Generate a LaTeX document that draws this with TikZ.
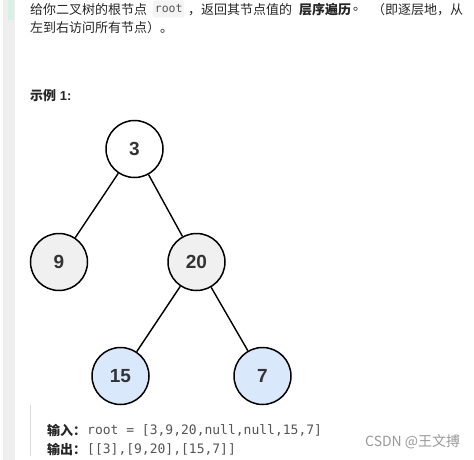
\documentclass[tikz,border=0pt]{standalone}
\usepackage{fontspec}
\setmainfont{Liberation Sans}
\setmonofont{DejaVu Sans Mono}
\newfontfamily\cjk{Noto Sans CJK SC}
\definecolor{txt}{HTML}{262626}
\definecolor{codegray}{HTML}{555555}
\definecolor{barg}{HTML}{EEEEEE}
\definecolor{mint}{HTML}{D6F0E6}
\definecolor{greyfill}{HTML}{F0F0F0}
\definecolor{bluefill}{HTML}{DAE8FC}
\definecolor{numc}{HTML}{333333}
\begin{document}
\begin{tikzpicture}[x=1pt,y=-1pt,
  tnode/.style={circle,draw=black,line width=1.5pt,minimum size=57pt,inner sep=0pt,
     font=\fontsize{19}{19}\selectfont\bfseries,text=numc},
  edge/.style={draw=black,line width=1.4pt},
  lbl/.style={anchor=west,inner sep=0pt,text=txt,font=\cjk\fontsize{13}{15}\selectfont},
  lblb/.style={lbl,font=\cjk\bfseries\fontsize{13}{15}\selectfont},
  code/.style={anchor=west,inner sep=0pt,text=codegray,font=\ttfamily\fontsize{13}{15}\selectfont}]
\useasboundingbox (0,0) rectangle (474,460);
\fill[white] (0,0) rectangle (474,460);
% left bar
\fill[barg] (3,0) rectangle (15,460);
\fill[mint] (8,0) rectangle (14,20);
% header text
\node[lbl] (t1) at (30,9.5) {给你二叉树的根节点};
\node[anchor=west,inner sep=0pt,fill=greyfill!70,rounded corners=2pt,minimum height=17pt,minimum width=31pt,
      text=codegray,font=\ttfamily\fontsize{11.5}{13}\selectfont] (rt) at (153,9) {root};
\node[lbl] (t2) at (188,9.5) {，返回其节点值的};
\node[lblb] (t3) at (299,9.5) {层序遍历};
\node[lbl] (t4) at (353,9.5) {。};
\node[lbl] (t5) at (372,9.5) {（即逐层地，从};
\node[lbl] (t6) at (30,27.5) {左到右访问所有节点）。};
\node[lblb] (ex) at (30,96) {示例\fontspec{Liberation Sans}\bfseries\ 1:};
% tree
\node[tnode,fill=white] (n3) at (134.5,149) {3};
\node[tnode,fill=greyfill] (n9) at (59,262) {9};
\node[tnode,fill=greyfill] (n20) at (196.5,262) {20};
\node[tnode,fill=bluefill] (n15) at (120.5,376) {15};
\node[tnode,fill=bluefill] (n7) at (262.5,376) {7};
\draw[edge] (n3) -- (n9);
\draw[edge] (n3) -- (n20);
\draw[edge] (n20) -- (n15);
\draw[edge] (n20) -- (n7);
% bottom
\draw[barg!80!gray,line width=1.2pt] (30.5,405) -- (30.5,456);
\node[lblb] (in) at (47,430) {输入：};
\node[code] (inc) at (87,430) {root = [3,9,20,null,null,15,7]};
\node[lblb] (out) at (47,449) {输出：};
\node[code] (outc) at (87,449) {[[3],[9,20],[15,7]]};
\node[anchor=west,inner sep=0pt,text=gray!80,font=\cjk\fontsize{14}{16}\selectfont] (wm) at (365,442) {CSDN @王文搏};
\end{tikzpicture}
\end{document}
